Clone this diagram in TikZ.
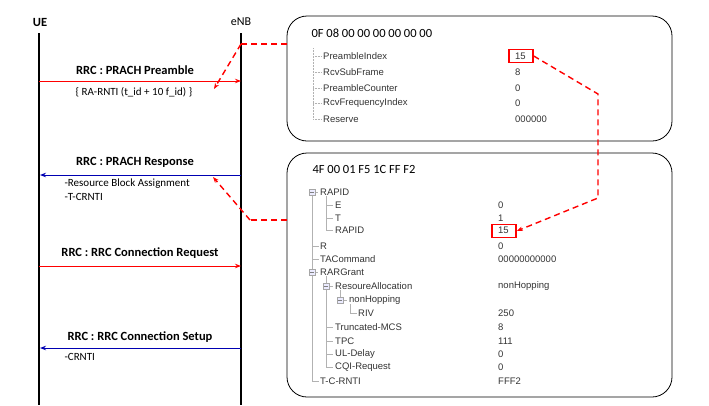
\documentclass[tikz,border=0pt]{standalone}
\usepackage{fontspec}
\setmainfont{Carlito}
\newfontfamily\treefont{Liberation Sans}
\usetikzlibrary{arrows.meta}
\begin{document}
\begin{tikzpicture}[x=1pt,y=-1pt,
  life/.style={line width=1.5pt},
  msgred/.style={draw=red,line width=1pt,-{Stealth[length=6pt]}},
  msgblue/.style={draw=blue!70!black,line width=1pt,-{Stealth[length=6pt]}},
  lbl/.style={font=\bfseries\fontsize{12.5}{14}\selectfont},
  sub/.style={font=\fontsize{11}{13}\selectfont,anchor=west},
  panel/.style={draw,rounded corners=20pt,line width=0.8pt},
  tl/.style={font=\treefont\fontsize{9.5}{11}\selectfont,text=black!80,anchor=west,inner sep=1pt},
  tv/.style={font=\treefont\fontsize{9.5}{11}\selectfont,text=black!80,anchor=west,inner sep=1pt},
  tree/.style={draw=gray!60,line width=0.5pt},
  dtree/.style={draw=gray!60,line width=0.5pt,densely dotted},
  hl/.style={draw=red,line width=1.4pt,inner sep=0pt,minimum width=24pt,minimum height=13pt},
  link/.style={draw=red,dashed,line width=1.4pt,dash pattern=on 6pt off 4pt},
  icon/.style={draw=gray!70,fill=blue!8,minimum size=6pt,inner sep=0pt}]
\useasboundingbox (0,0) rectangle (709,405);
% lifelines
\node[lbl] (ue) at (40,22) {UE};
\node[font=\fontsize{12}{14}\selectfont] (enb) at (241,22) {eNB};
\coordinate (ueT) at (39,33); \coordinate (ueB) at (39,405);
\coordinate (enT) at (241,33); \coordinate (enB) at (241,405);
\draw[life] (ueT) -- (ueB); \draw[life] (enT) -- (enB);
% messages
\coordinate (a1) at (39,81); \coordinate (b1) at (241,81);
\draw[msgred] (a1) -- (b1);
\node[lbl] (m1) at (135,70) {RRC : PRACH Preamble};
\node[font=\fontsize{11}{13}\selectfont] (s1) at (134,92) {\{ RA-RNTI (t\_id + 10 f\_id) \}};
\coordinate (a2) at (241,175); \coordinate (b2) at (40,175);
\draw[msgblue] (a2) -- (b2);
\node[lbl] (m2) at (135,162) {RRC : PRACH Response};
\node[sub] (s2) at (61,184) {-Resource Block Assignment};
\node[sub] (s2b) at (61,197) {-T-CRNTI};
\coordinate (a3) at (39,266); \coordinate (b3) at (241,266);
\draw[msgred] (a3) -- (b3);
\node[lbl] (m3) at (140,253) {RRC : RRC Connection Request};
\coordinate (a4) at (241,348); \coordinate (b4) at (40,348);
\draw[msgblue] (a4) -- (b4);
\node[lbl] (m4) at (140,337) {RRC : RRC Connection Setup};
\node[sub] (s4) at (61,357) {-CRNTI};
% panel 1
\draw[panel] (287,16) rectangle (672,141);
\node[anchor=west,font=\fontsize{12.5}{14}\selectfont] (t1) at (308,33) {0F 08 00 00 00 00 00 00};
\draw[dtree] (313,48) -- (313,119);
\foreach \y/\n/\v in {56/PreambleIndex/15,72/RcvSubFrame/8,88/PreambleCounter/0,103/RcvFrequencyIndex/0,119/Reserve/000000}{
  \draw[dtree] (313,\y) -- (321,\y);
  \node[tl] at (322,\y) {\n};
  \node[tv] at (514,\y) {\v};
}
\node[hl] (h1) at (521,56) {};
% panel 2
\draw[panel] (287,153) rectangle (672,397);
\node[anchor=west,font=\fontsize{12.5}{14}\selectfont] (t2) at (309,169) {4F 00 01 F5 1C FF F2};
\draw[tree] (312,196) -- (312,381);
\draw[tree] (326,196) -- (326,230);
\draw[tree] (326,276) -- (326,367);
\draw[tree] (340,290) -- (340,300);
\draw[tree] (350,304) -- (350,313);
\foreach \y/\x in {205/326,218/326,230/326,246/312,259/312,381/312,327/326,341/326,354/326,367/326,313/350}{
  \draw[tree] (\x,\y) -- (\x+7,\y);
}
\draw[tree] (312,192) -- (318,192);\draw[tree] (312,272) -- (318,272);
\draw[tree] (326,286) -- (333,286);\draw[tree] (340,300) -- (347,300);
\foreach \x/\y in {312/192,312/272,326/286,340/300}{
  \node[icon] at (\x,\y) {}; \draw[gray] (\x-2,\y) -- (\x+2,\y);
}
\foreach \y/\x/\n/\v in {192/319/RAPID/{},205/334/E/0,218/334/T/1,230/334/RAPID/15,246/319/R/0,259/319/TACommand/00000000000,272/319/RARGrant/{},286/334/ResoureAllocation/nonHopping,300/348/nonHopping/{},313/357/RIV/250,327/334/Truncated-MCS/8,341/334/TPC/111,354/334/UL-Delay/0,367/334/CQI-Request/0,381/319/T-C-RNTI/FFF2}{
  \node[tl] at (\x,\y) {\n};
  \node[tv] at (497,\y) {\v};
}
\node[hl] (h2) at (504,231) {};
% links
\coordinate (l1) at (241,44); \coordinate (l1e) at (287,44); \coordinate (l1a) at (214,89);
\draw[link] (l1e) -- (l1);
\draw[link,-{Stealth[length=6pt]}] (l1) -- (l1a);
\coordinate (l2e) at (287,220); \coordinate (l2) at (250,220); \coordinate (l2a) at (213,177);
\draw[link] (l2e) -- (l2);
\draw[link,-{Stealth[length=6pt]}] (l2) -- (l2a);
\coordinate (k1) at (598,94); \coordinate (k2) at (598,198);
\draw[link,-{Stealth[length=6pt]}] (h1.east) -- (k1) -- (k2) -- (h2.east);
\end{tikzpicture}
\end{document}
